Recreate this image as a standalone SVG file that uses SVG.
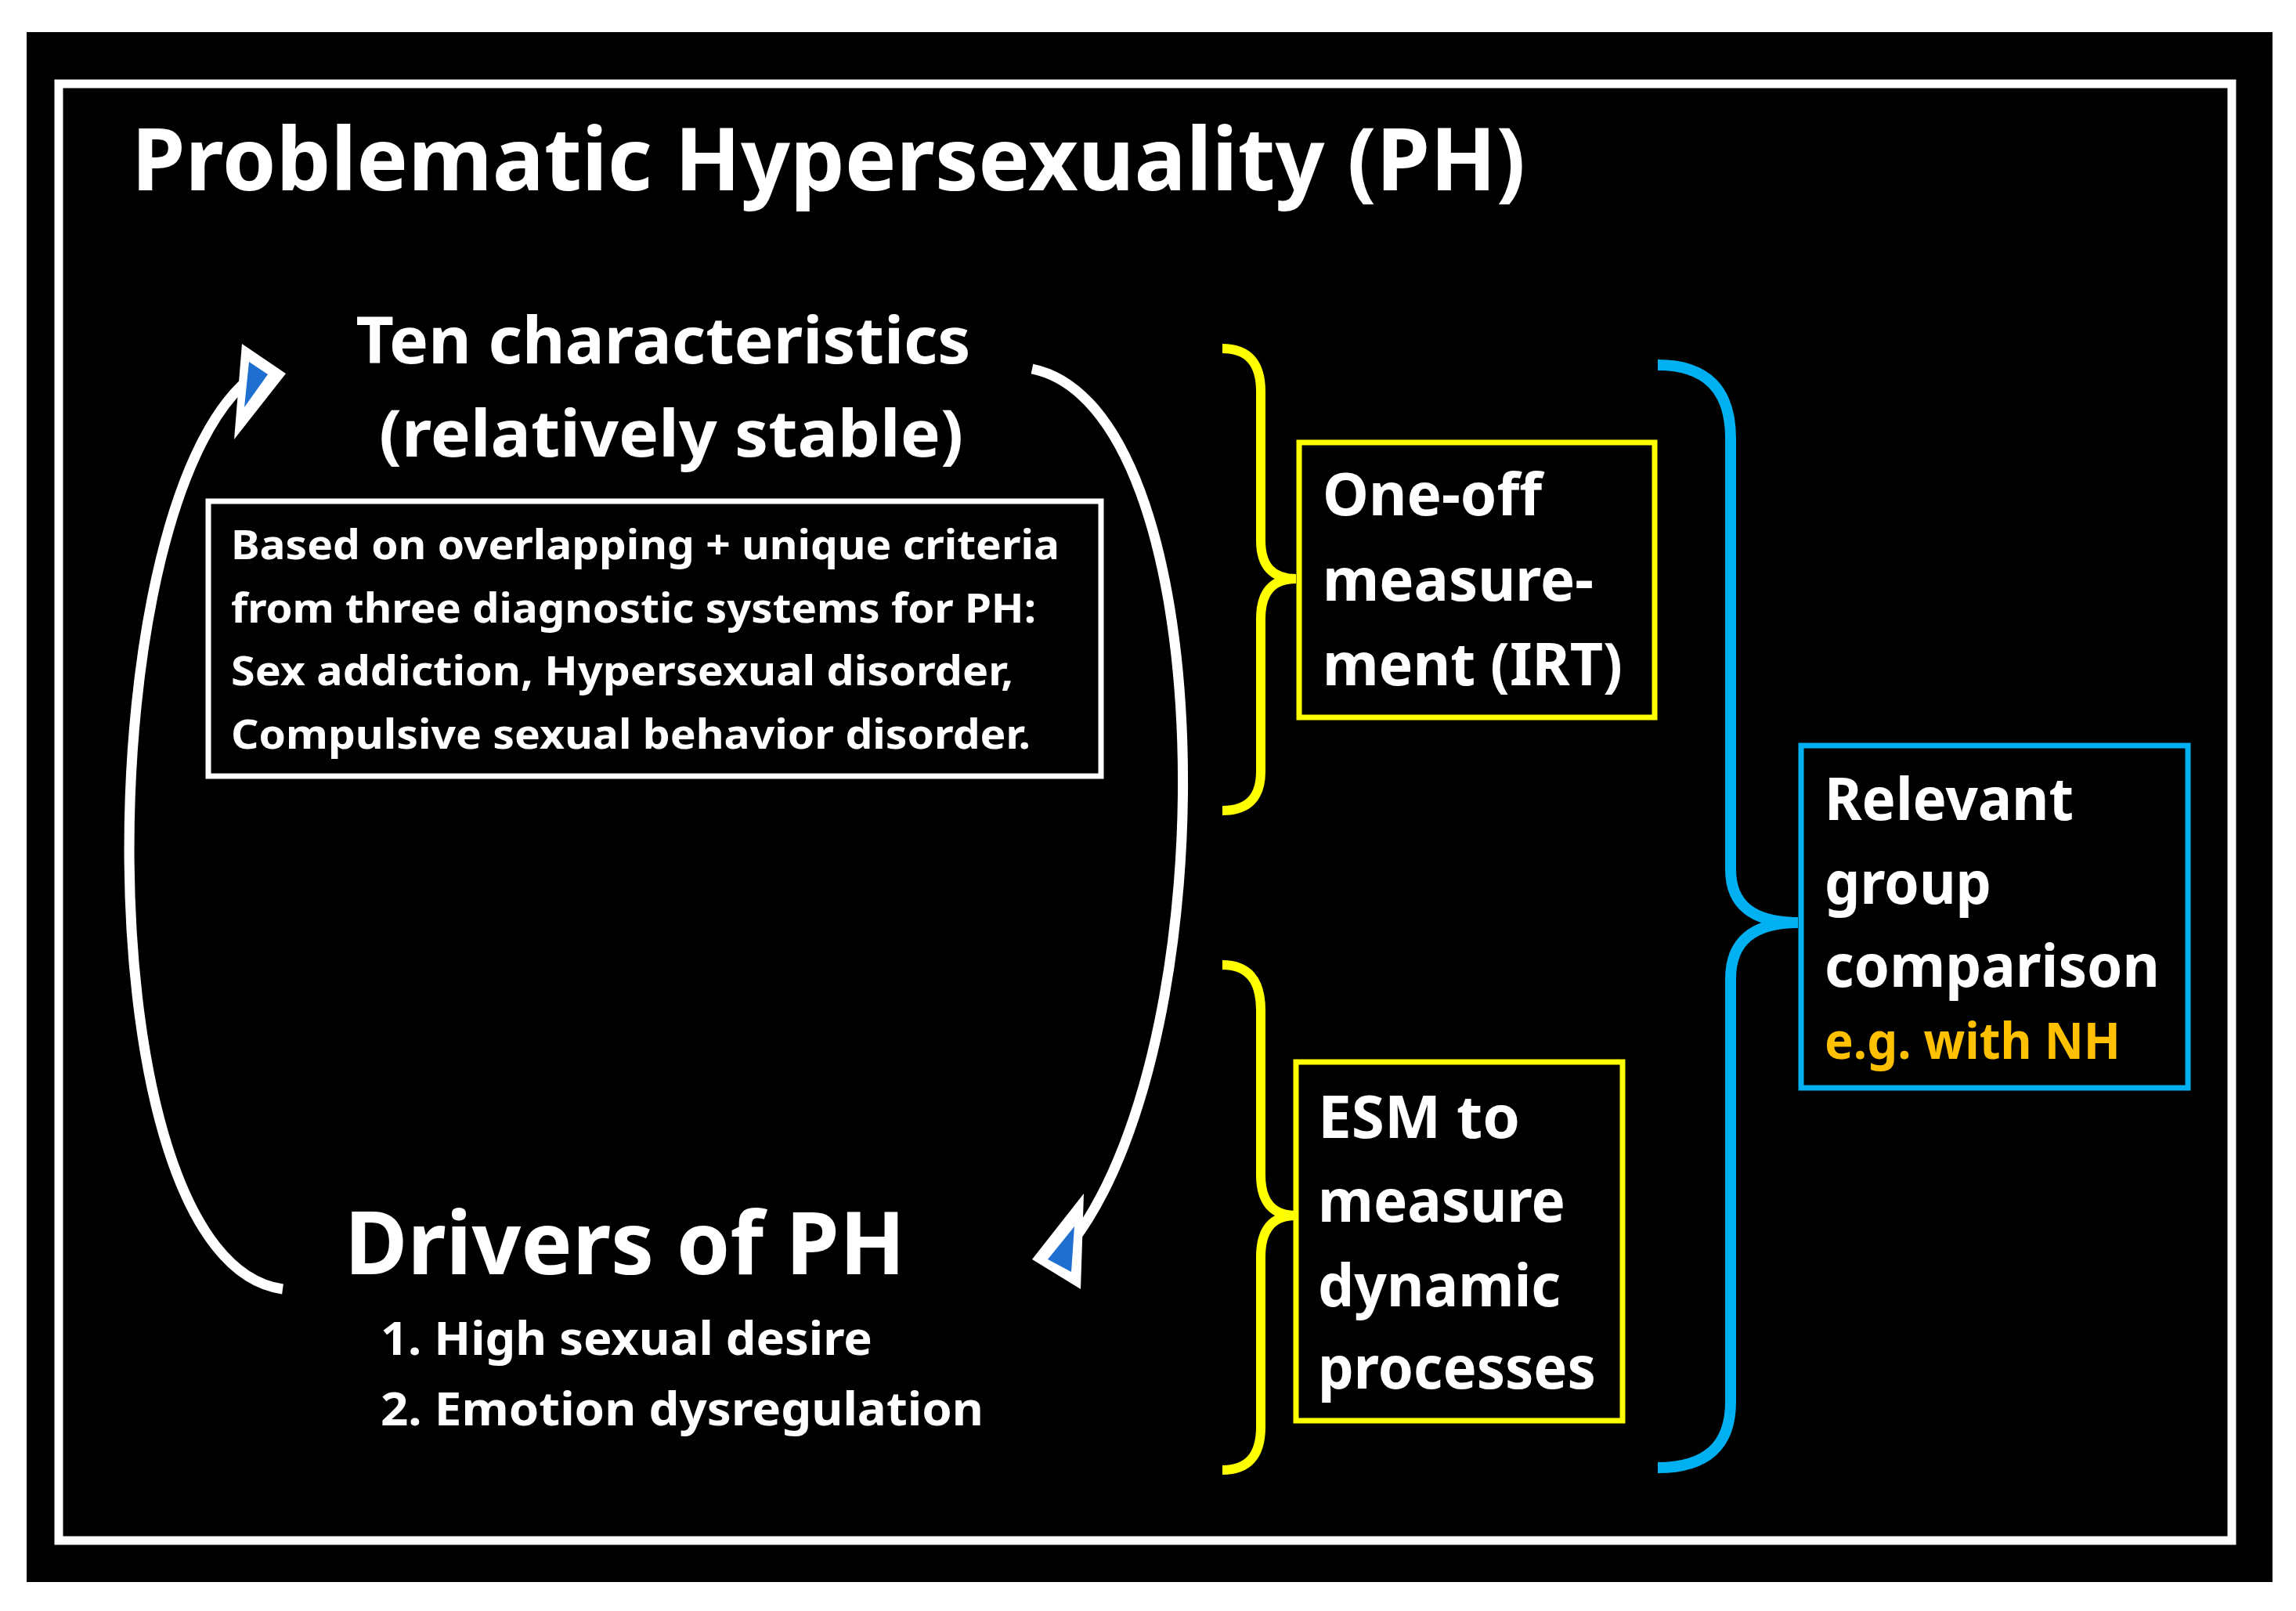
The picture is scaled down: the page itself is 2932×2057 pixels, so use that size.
<svg xmlns="http://www.w3.org/2000/svg" width="2932" height="2057" viewBox="0 0 2932 2057">
<style>
text{font-family:"Noto Sans","Open Sans","Liberation Sans",sans-serif;font-weight:700;fill:#fff}
.w{fill:none;stroke:#fff}
.y{fill:none;stroke:#FFFF00;stroke-width:12}
.b{fill:none;stroke:#00B0F0;stroke-width:14}
</style>
<rect width="2932" height="2057" fill="#fff"/>
<rect x="34" y="41" width="2868" height="1979" fill="#000"/>
<rect x="75" y="107" width="2775" height="1860" class="w" stroke-width="11"/>
<text x="168" y="243" font-size="112" textLength="1780" lengthAdjust="spacingAndGlyphs">Problematic Hypersexuality (PH)</text>
<g id="connectors">
<path d="M1318,471 C1560,520 1570,1320 1370,1585" class="w" stroke-width="13"/>
<polygon points="1384,1524 1318,1608 1380,1646" fill="#fff"/>
<polygon points="1372,1566 1338,1608 1368,1624" fill="#1F6FD0"/>
<path d="M361,1646 C100,1610 110,620 330,475" class="w" stroke-width="13"/>
<polygon points="299,561 309,439 365,477" fill="#fff"/>
<polygon points="312,520 318,462 342,478" fill="#1F6FD0"/>
<path d="M1561,445 Q1610,445 1610,500 L1610,690 Q1610,739 1655,739 Q1610,739 1610,790 L1610,985 Q1610,1035 1561,1035" class="y"/>
<path d="M1561,1232 Q1610,1232 1610,1290 L1610,1500 Q1610,1552 1655,1552 Q1610,1552 1610,1605 L1610,1822 Q1610,1877 1561,1877" class="y"/>
<path d="M2117,466 Q2210,466 2210,560 L2210,1110 Q2210,1178 2296,1178 Q2210,1178 2210,1250 L2210,1790 Q2210,1874 2117,1874" class="b"/>
</g>
<g id="ten">
<text x="847" y="464" font-size="82" text-anchor="middle" textLength="785" lengthAdjust="spacingAndGlyphs">Ten characteristics</text>
<text x="857" y="583" font-size="82" text-anchor="middle" textLength="746" lengthAdjust="spacingAndGlyphs">(relatively stable)</text>
</g>
<g id="criteria">
<rect x="266" y="640" width="1140" height="351" class="w" stroke-width="7"/>
<text x="295" y="714" font-size="52" textLength="1058" lengthAdjust="spacingAndGlyphs">Based on overlapping + unique criteria</text>
<text x="295" y="795" font-size="52" textLength="1028" lengthAdjust="spacingAndGlyphs">from three diagnostic systems for PH:</text>
<text x="295" y="875" font-size="52" textLength="999" lengthAdjust="spacingAndGlyphs">Sex addiction, Hypersexual disorder,</text>
<text x="295" y="956" font-size="52" textLength="1021" lengthAdjust="spacingAndGlyphs">Compulsive sexual behavior disorder.</text>
</g>
<g id="drivers">
<text x="440" y="1627" font-size="112" textLength="716" lengthAdjust="spacingAndGlyphs">Drivers of PH</text>
<text x="486" y="1730" font-size="60" textLength="628" lengthAdjust="spacingAndGlyphs">1. High sexual desire</text>
<text x="486" y="1820" font-size="60" textLength="770" lengthAdjust="spacingAndGlyphs">2. Emotion dysregulation</text>
</g>
<g id="oneoff">
<rect x="1659" y="565" width="454" height="351" fill="none" stroke="#FFFF00" stroke-width="7"/>
<text x="1689" y="658" font-size="75" textLength="280" lengthAdjust="spacingAndGlyphs">One-off</text>
<text x="1689" y="767" font-size="75" textLength="346" lengthAdjust="spacingAndGlyphs">measure-</text>
<text x="1689" y="875" font-size="75" textLength="383" lengthAdjust="spacingAndGlyphs">ment (IRT)</text>
</g>
<g id="esm">
<rect x="1655" y="1356" width="417" height="458" fill="none" stroke="#FFFF00" stroke-width="7"/>
<text x="1683" y="1453" font-size="75" textLength="258" lengthAdjust="spacingAndGlyphs">ESM to</text>
<text x="1683" y="1560" font-size="75" textLength="316" lengthAdjust="spacingAndGlyphs">measure</text>
<text x="1683" y="1668" font-size="75" textLength="310" lengthAdjust="spacingAndGlyphs">dynamic</text>
<text x="1683" y="1773" font-size="75" textLength="355" lengthAdjust="spacingAndGlyphs">processes</text>
</g>
<g id="group">
<rect x="2300" y="952" width="494" height="437" fill="none" stroke="#00B0F0" stroke-width="7"/>
<text x="2330" y="1047" font-size="75" textLength="318" lengthAdjust="spacingAndGlyphs">Relevant</text>
<text x="2330" y="1154" font-size="75" textLength="213" lengthAdjust="spacingAndGlyphs">group</text>
<text x="2330" y="1260" font-size="75" textLength="428" lengthAdjust="spacingAndGlyphs">comparison</text>
<text x="2330" y="1352" font-size="64" fill="#FFC000" style="fill:#FFC000" textLength="378" lengthAdjust="spacingAndGlyphs">e.g. with NH</text>
</g>
</svg>
